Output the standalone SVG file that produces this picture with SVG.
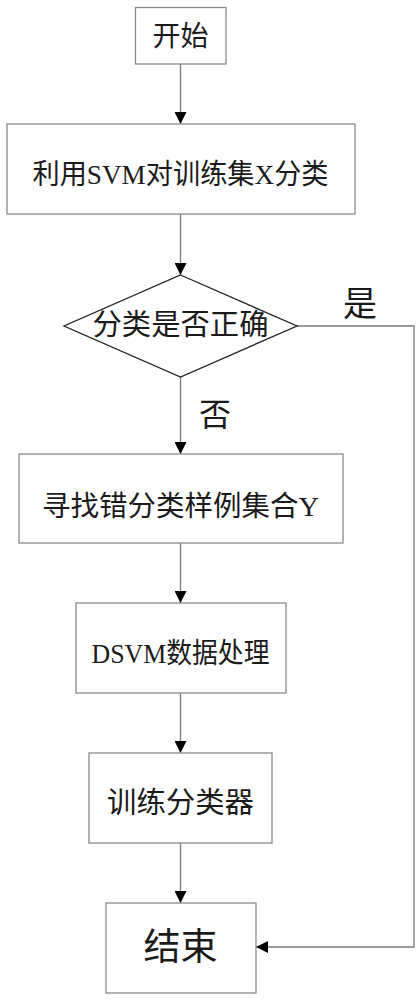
<svg xmlns="http://www.w3.org/2000/svg" width="420" height="1000" viewBox="0 0 420 1000">
<style>
.box{fill:#fff;stroke:#8a8a8a;stroke-width:1.3}
.dia{fill:#fff;stroke:#222;stroke-width:1.3}
.lbl{font-family:"Liberation Serif","Noto Sans CJK SC",serif;fill:#1a1a1a;text-anchor:middle;dominant-baseline:central}
.con{fill:none;stroke:#7a7a7a;stroke-width:1.3}
</style>
<defs>
<marker id="arr" markerUnits="userSpaceOnUse" markerWidth="12" markerHeight="12" refX="12" refY="6" orient="auto">
<path d="M0,0 L12,6 L0,12 z" fill="#000"/>
</marker>
</defs>
<rect width="420" height="1000" fill="#fff"/>
<g id="connectors">
<line class="con" x1="180.5" y1="64" x2="180.5" y2="124" marker-end="url(#arr)"/>
<line class="con" x1="180.5" y1="214" x2="180.5" y2="275" marker-end="url(#arr)"/>
<line class="con" x1="180.5" y1="377" x2="180.5" y2="454" marker-end="url(#arr)"/>
<line class="con" x1="180.5" y1="543" x2="180.5" y2="603" marker-end="url(#arr)"/>
<line class="con" x1="180.5" y1="693" x2="180.5" y2="753" marker-end="url(#arr)"/>
<line class="con" x1="180.5" y1="843" x2="180.5" y2="903" marker-end="url(#arr)"/>
<polyline class="con" points="297,326 414,326 414,947 256,947" marker-end="url(#arr)"/>
<text class="lbl" x="360" y="304" font-size="34">是</text>
<text class="lbl" x="215" y="415" font-size="32">否</text>
</g>
<g id="start">
<rect class="box" x="135.5" y="7.5" width="90.5" height="56.5"/>
<text class="lbl" x="180.5" y="36" font-size="28">开始</text>
</g>
<g id="classify">
<rect class="box" x="7" y="124" width="348" height="90"/>
<text class="lbl" x="180.5" y="174" font-size="28" textLength="296" lengthAdjust="spacingAndGlyphs">利用SVM对训练集X分类</text>
</g>
<g id="decision">
<polygon class="dia" points="180.5,275 297,326 180.5,377 64,326"/>
<text class="lbl" x="180.5" y="325" font-size="29" textLength="176" lengthAdjust="spacingAndGlyphs">分类是否正确</text>
</g>
<g id="find">
<rect class="box" x="19" y="454" width="324" height="89"/>
<text class="lbl" x="180.5" y="506" font-size="28" textLength="277" lengthAdjust="spacingAndGlyphs">寻找错分类样例集合Y</text>
</g>
<g id="dsvm">
<rect class="box" x="76" y="603" width="210" height="90"/>
<text class="lbl" x="180.5" y="653" font-size="28" textLength="178" lengthAdjust="spacingAndGlyphs">DSVM数据处理</text>
</g>
<g id="train">
<rect class="box" x="89" y="753" width="183" height="90"/>
<text class="lbl" x="180.5" y="803" font-size="29" textLength="147" lengthAdjust="spacingAndGlyphs">训练分类器</text>
</g>
<g id="end">
<rect class="box" x="106" y="903" width="150" height="90"/>
<text class="lbl" x="180.5" y="947" font-size="37">结束</text>
</g>
</svg>
